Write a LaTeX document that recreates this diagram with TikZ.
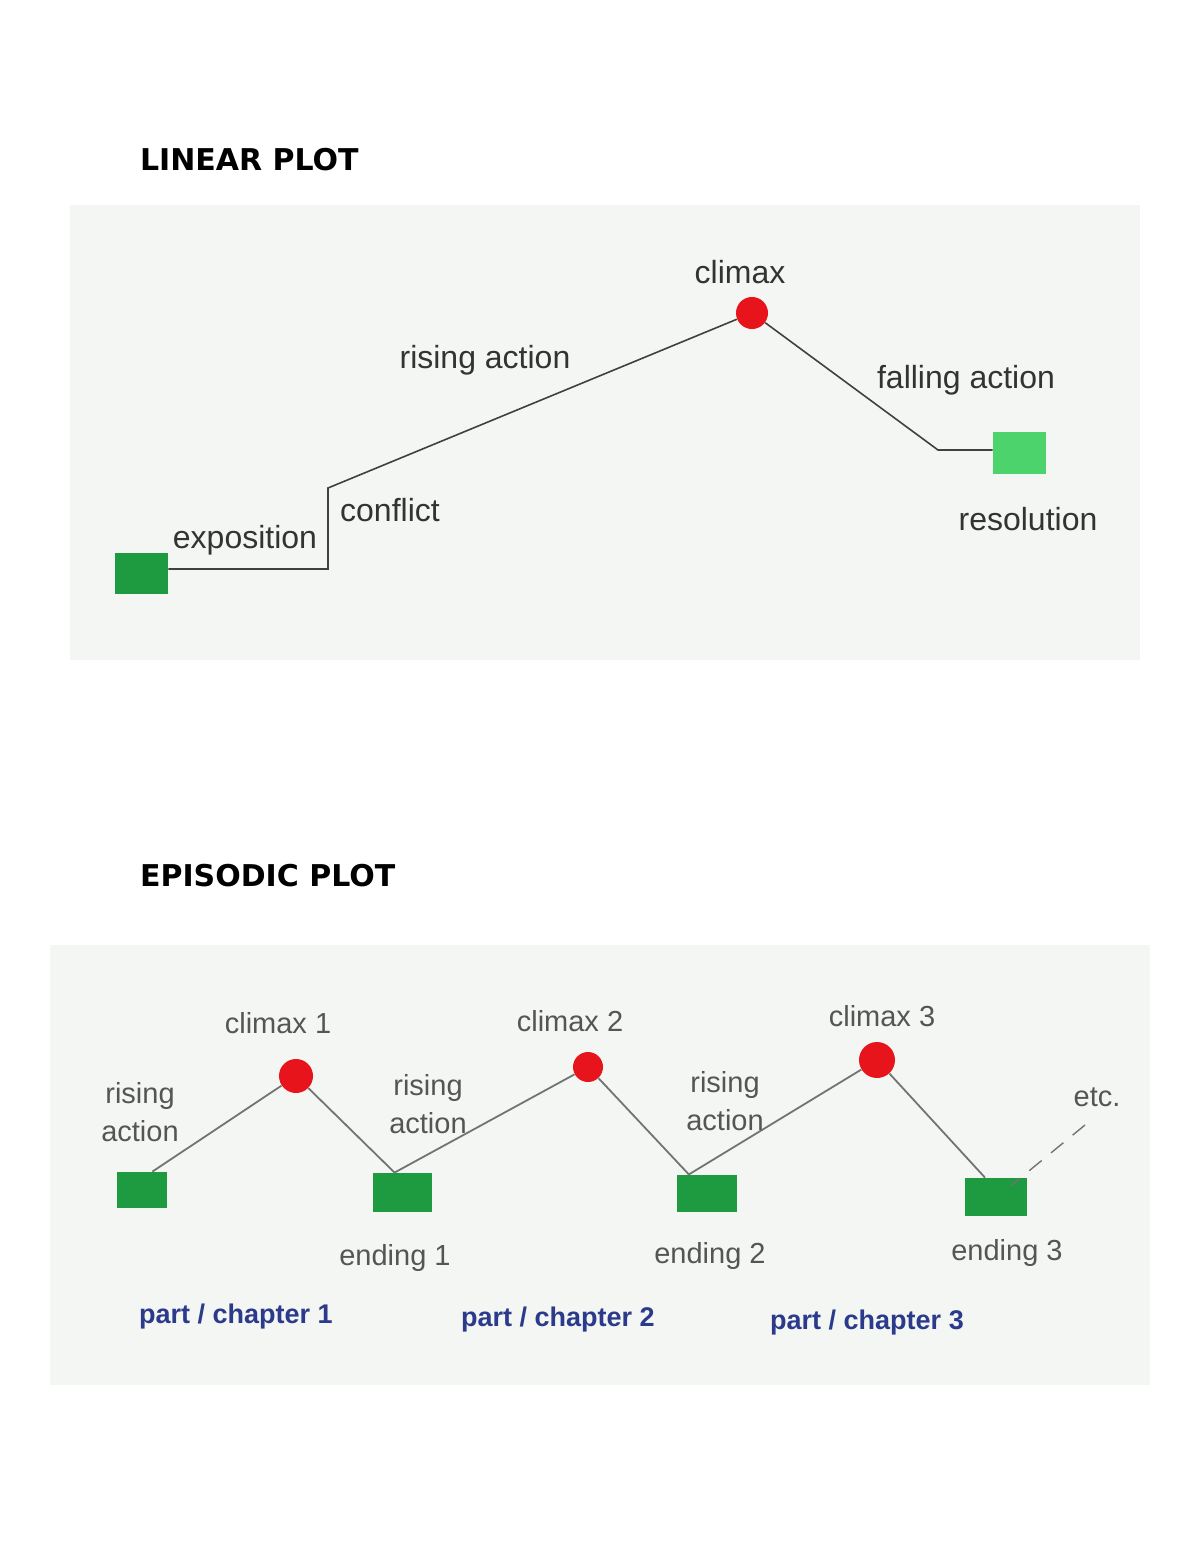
\documentclass[tikz,border=0pt]{standalone}
\usepackage{fontspec}
\setmainfont{Liberation Sans}
\newfontfamily\titlefont{DejaVu Sans}
\definecolor{dg}{HTML}{1E9A40}
\definecolor{lg}{HTML}{4CD36C}
\definecolor{rd}{HTML}{E8141C}
\definecolor{panel}{HTML}{F4F6F4}
\definecolor{txt}{HTML}{333333}
\definecolor{etxt}{HTML}{555555}
\definecolor{blu}{HTML}{2B3A8A}
\begin{document}
\begin{tikzpicture}[x=0.5pt,y=-0.5pt,
  sq/.style={fill=dg,draw=none,inner sep=0,minimum width=#1},
  dot/.style={circle,fill=rd,draw=none,inner sep=0,minimum size=#1},
  lab/.style={text=txt,font=\fontsize{16}{18}\selectfont},
  elab/.style={text=etxt,font=\fontsize{14.5}{19}\selectfont,align=center},
  plab/.style={text=blu,font=\bfseries\fontsize{13.5}{16}\selectfont},
  ttl/.style={font=\titlefont\bfseries\fontsize{15}{18}\selectfont,anchor=west},
  ln/.style={draw=black!75,line width=0.8pt},
  eln/.style={draw=black!55,line width=0.9pt}]
\useasboundingbox (0,0) rectangle (1200,1553);
\fill[white] (0,0) rectangle (1200,1553);
\fill[panel] (70,205) rectangle (1140,660);
\fill[panel] (50,945) rectangle (1150,1385);
\node[ttl] (t1) at (133,160) {LINEAR PLOT};
\node[ttl] (t2) at (133,876) {EPISODIC PLOT};
% linear
\node[sq=53pt/2,minimum height=41pt/2] (ex) at (141.5,573.5) {};
\node[sq=53pt/2,minimum height=42pt/2,fill=lg] (re) at (1019.5,453) {};
\node[dot=32pt/2] (cl) at (752,313) {};
\coordinate (c1) at (328,569);
\coordinate (c2) at (328,488);
\coordinate (c3) at (938,450);
\draw[ln] (ex.east|-c1) -- (c1) -- (c2) -- (cl) -- (c3) -- (re.west|-c3);
\node[lab] (l1) at (740,272) {climax};
\node[lab] (l2) at (485,360) {rising action};
\node[lab] (l3) at (966,380) {falling action};
\node[lab] (l4) at (390,510) {conflict};
\node[lab] (l5) at (245,540) {exposition};
\node[lab] (l6) at (1028,519) {resolution};
% episodic
\node[sq=50pt/2,minimum height=36pt/2] (s1) at (142,1190) {};
\node[sq=59pt/2,minimum height=39pt/2] (s2) at (402.5,1192.5) {};
\node[sq=60pt/2,minimum height=37pt/2] (s3) at (707,1193.5) {};
\node[sq=62pt/2,minimum height=38pt/2] (s4) at (996,1197) {};
\node[dot=34pt/2] (k1) at (296,1076) {};
\node[dot=30pt/2] (k2) at (588,1067) {};
\node[dot=36pt/2] (k3) at (877,1060) {};
\draw[eln] ([xshift=-15pt/2]s1.north east) -- (k1);
\draw[eln] (k1) -- ([xshift=22pt/2]s2.north west);
\draw[eln] ([xshift=-8pt/2]s2.north) -- (k2);
\draw[eln] (k2) -- ([xshift=-18pt/2]s3.north);
\draw[eln] ([xshift=12pt/2]s3.north west) -- (k3);
\draw[eln] (k3) -- ([xshift=-11pt/2]s4.north);
\coordinate (e1) at (1085,1125);
\draw[eln,dash pattern=on 8pt off 6pt,line width=0.7pt] (e1) -- ([xshift=15pt/2,yshift=-8pt/2]s4.north);
\node[elab] at (278,1023) (m1) {climax 1};
\node[elab] at (570,1021) (m2) {climax 2};
\node[elab] at (882,1016) (m3) {climax 3};
\node[elab] at (140,1112) (r1) {rising\\action};
\node[elab] at (428,1104) (r2) {rising\\action};
\node[elab] at (725,1101) (r3) {rising\\action};
\node[elab] at (1097,1097) (et) {etc.};
\node[elab] at (395,1258) (n1) {ending 1};
\node[elab] at (710,1256) (n2) {ending 2};
\node[elab] at (1007,1253) (n3) {ending 3};
\node[plab] at (236,1317) (p1) {part / chapter 1};
\node[plab] at (558,1320) (p2) {part / chapter 2};
\node[plab] at (867,1323) (p3) {part / chapter 3};
\end{tikzpicture}
\end{document}
